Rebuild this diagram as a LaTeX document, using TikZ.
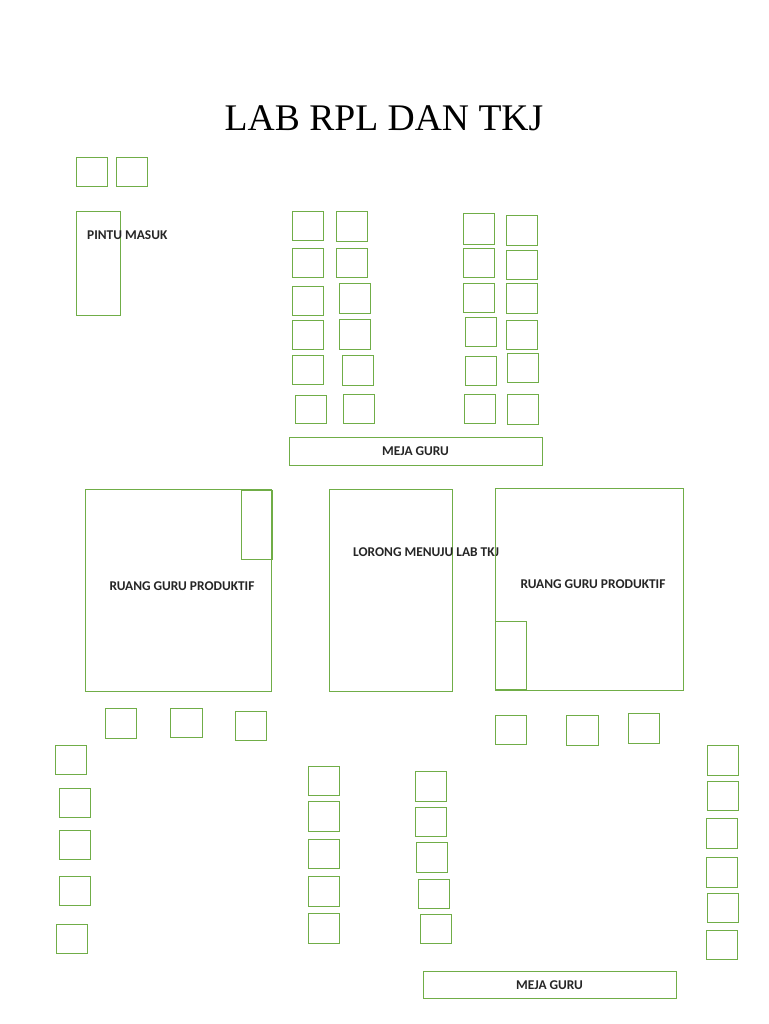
\documentclass[tikz,border=0pt]{standalone}
\usepackage{fontspec}
\setmainfont{Liberation Serif}
\newfontfamily\lbl{Carlito}
\definecolor{gr}{HTML}{70AD47}
\begin{document}
\begin{tikzpicture}[x=1pt,y=-1pt,
  bx/.style={draw=gr,line width=1pt},
  lab/.style={font=\lbl\bfseries\fontsize{13.4}{14}\selectfont,inner sep=0pt,text=black!85}]
\useasboundingbox[fill=white] (0,0) rectangle (768,1024);
\node[font=\fontsize{37.6}{40}\selectfont,inner sep=0pt] (title) at (384,118) {LAB RPL DAN TKJ};
\foreach \a/\b/\c/\d [count=\i] in {
 76/158/107/187, 116/158/147/187,
 292/212/323/240, 292/248/323/277, 292/286/323/315, 292/320/323/349, 292/355/323/384, 295/395/326/423,
 336/212/367/241, 336/248/367/277, 339/283/370/313, 339/319/370/349, 342/355/373/385, 343/394/374/423,
 463/214/494/244, 463/248/494/277, 463/283/494/312, 465/317/496/346, 465/356/496/385, 464/394/495/423,
 506/216/537/245, 506/250/537/279, 506/283/537/313, 506/320/537/349, 507/353/538/382, 507/394/538/424,
 105/708/136/738, 170/708/202/737, 235/711/266/740,
 495/715/526/744, 566/715/598/745, 628/713/659/743,
 55/745/86/774, 59/788/90/817, 59/830/90/859, 59/876/90/905, 56/924/87/953,
 308/766/339/795, 308/801/339/831, 308/839/339/868, 308/876/339/906, 308/913/339/943,
 415/771/446/801, 415/807/446/836, 416/842/447/872, 418/879/449/908, 420/914/451/943,
 707/745/738/775, 707/781/738/810, 706/818/737/848, 706/857/737/887, 707/893/738/922, 706/930/737/959}
 \draw[bx] (\a,\b) rectangle (\c,\d);
\draw[bx] (76,212) rectangle (120,315);
\node[lab,anchor=west] (pintu) at (87,235) {PINTU MASUK};
\draw[bx] (289,437) rectangle (542,465);
\node[lab] (mg1) at (415.5,451) {MEJA GURU};
\draw[bx] (85,489) rectangle (271,691);
\draw[bx] (241,490) rectangle (272,559);
\node[lab] (rg1) at (182,586) {RUANG GURU PRODUKTIF};
\draw[bx] (329,489) rectangle (452,691);
\node[lab,anchor=west] (lor) at (353,552) {LORONG MENUJU LAB TKJ};
\draw[bx] (495,488) rectangle (683,690);
\draw[bx] (495,621) rectangle (526,689);
\node[lab] (rg2) at (593,584) {RUANG GURU PRODUKTIF};
\draw[bx] (423,971) rectangle (676,998);
\node[lab] (mg2) at (549.5,985) {MEJA GURU};
\end{tikzpicture}
\end{document}
